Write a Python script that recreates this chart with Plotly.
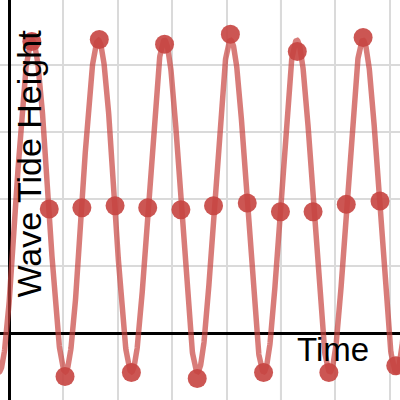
import numpy as np
import plotly.graph_objects as go

# Data points (time, wave tide height)
time = [0.42, 0.74, 1.03, 1.34, 1.66, 1.95, 2.25, 2.55, 2.86, 3.16, 3.46, 3.76,
        4.07, 4.38, 4.68, 4.99, 5.30, 5.59, 5.88, 6.20, 6.51, 6.82, 7.11]
height = [4.35, 1.85, -0.65, 1.87, 4.38, 1.90, -0.59, 1.87, 4.31, 1.84, -0.68, 1.90,
          4.46, 1.94, -0.59, 1.81, 4.20, 1.81, -0.59, 1.92, 4.41, 1.97, -0.49]

x_title = "Time"
y_title = "Wave Tide Height"

# Sinusoidal regression of the data: h ~ a sin(wt) + b cos(wt) + d
t = np.array(time)
h = np.array(height)
best = None
for P in np.linspace(1.0, 1.5, 2001):
    w = 2 * np.pi / P
    A = np.column_stack([np.sin(w * t), np.cos(w * t), np.ones_like(t)])
    coef, *_ = np.linalg.lstsq(A, h, rcond=None)
    r = float(np.sum((A @ coef - h) ** 2))
    if best is None or r < best[0]:
        best = (r, P, coef)
_, P, coef = best
w = 2 * np.pi / P
xs = np.linspace(-0.3, 7.4, 2000)
ys = coef[0] * np.sin(w * xs) + coef[1] * np.cos(w * xs) + coef[2]

red = "199,68,64"
fig = go.Figure()
fig.add_trace(go.Scatter(x=xs, y=ys, mode="lines",
                         line=dict(color=f"rgba({red},0.7)", width=5.5),
                         hoverinfo="skip"))
fig.add_trace(go.Scatter(x=time, y=height, mode="markers",
                         marker=dict(color=f"rgba({red},0.9)", size=19,
                                     line=dict(width=0))))

font_y = dict(family="Arial, Liberation Sans, sans-serif", size=34, color="black")
font_x = dict(family="Arial, Liberation Sans, sans-serif", size=33, color="black")
fig.update_layout(
    width=400, height=400,
    margin=dict(l=0, r=0, t=0, b=0),
    paper_bgcolor="white", plot_bgcolor="white",
    showlegend=False,
    xaxis=dict(range=[-0.1654, 7.188], dtick=1, tick0=0, showticklabels=False,
               showgrid=True, gridcolor="rgb(218,218,218)", gridwidth=2,
               zeroline=True, zerolinecolor="black", zerolinewidth=3,
               showline=False, ticks=""),
    yaxis=dict(range=[-1.0, 4.97], dtick=1, tick0=0, showticklabels=False,
               showgrid=True, gridcolor="rgb(218,218,218)", gridwidth=2,
               zeroline=True, zerolinecolor="black", zerolinewidth=3,
               showline=False, ticks=""),
    shapes=[dict(type="line", xref="x", yref="paper", x0=5, x1=5, y0=0, y1=1,
                 line=dict(color="rgb(140,140,140)", width=2), layer="below")],
    annotations=[
        dict(text=y_title, xref="paper", yref="paper", x=29 / 400, y=1 - 163.5 / 400,
             xanchor="center", yanchor="middle", textangle=-90, showarrow=False,
             font=font_y),
        dict(text=x_title, xref="paper", yref="paper", x=332.5 / 400, y=1 - 349 / 400,
             xanchor="center", yanchor="middle", showarrow=False, font=font_x),
    ],
)
fig.write_html("out.html", config={"displayModeBar": False},
               post_script="document.body.style.margin='0';document.body.style.overflow='hidden';")
